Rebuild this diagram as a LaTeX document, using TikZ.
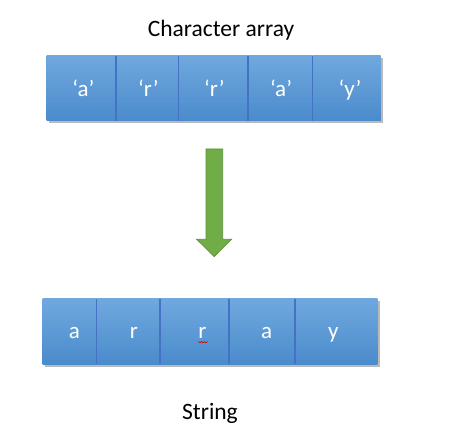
\documentclass[tikz,border=0pt]{standalone}
\usepackage{fontspec}
\setmainfont{Carlito}
\usetikzlibrary{shadows,shapes.misc}
\definecolor{celltop}{HTML}{70A8DE}
\definecolor{cellbot}{HTML}{4A8BCC}
\definecolor{divider}{HTML}{4472C4}
\definecolor{arrowfill}{HTML}{70AD47}
\definecolor{arrowline}{HTML}{5A8C38}
\tikzset{
  cellbox/.style={inner sep=0pt, outer sep=0pt, top color=celltop, bottom color=cellbot, draw=none},
  backbox/.style={inner sep=0pt, outer sep=0pt, fill=cellbot,
     drop shadow={shadow xshift=2.5pt, shadow yshift=-2.5pt, opacity=0.45, fill=black!60}},
  divline/.style={draw=divider, line width=1.4pt},
  celltext/.style={text=white, font=\fontsize{23}{27}\selectfont, anchor=base, inner sep=0pt},
  captext/.style={text=black, font=\fontsize{23.5}{28}\selectfont, anchor=base, inner sep=0pt},
  bigarrow/.style={fill=arrowfill, draw=arrowline, line width=0.6pt, line join=miter}
}
\begin{document}
\begin{tikzpicture}[x=1pt,y=-1pt]
\useasboundingbox (0,0) rectangle (453,446);
% caption top
\node[captext] (captop) at (221,36.7) {Character array};
% top array background with shadow
\path[backbox] (46.7,55.7) rectangle (380.7,121);
\node[cellbox, minimum width=69.3pt, minimum height=65.3pt] (t1) at (81.35,88.35) {};
\node[cellbox, minimum width=62.7pt, minimum height=65.3pt] (t2) at (147.35,88.35) {};
\node[cellbox, minimum width=69.3pt, minimum height=65.3pt] (t3) at (213.35,88.35) {};
\node[cellbox, minimum width=64.7pt, minimum height=65.3pt] (t4) at (280.35,88.35) {};
\node[cellbox, minimum width=68pt, minimum height=65.3pt] (t5) at (346.7,88.35) {};
\draw[divline] (t1.north east) -- (t1.south east);
\draw[divline] (t2.north east) -- (t2.south east);
\draw[divline] (t3.north east) -- (t3.south east);
\draw[divline] (t4.north east) -- (t4.south east);
\node[celltext] (lt1) at (83.3,96.7) {‘a’};
\node[celltext] (lt2) at (148.3,96.7) {‘r’};
\node[celltext] (lt3) at (214.3,96.7) {‘r’};
\node[celltext] (lt4) at (281,96.7) {‘a’};
\node[celltext] (lt5) at (350,96.7) {‘y’};
% green arrow
\draw[bigarrow] (206,149) -- (222.7,149) -- (222.7,239.3) -- (231.7,239.3)
   -- (214.2,256.7) -- (196.7,239.3) -- (206,239.3) -- cycle;
% bottom array
\path[backbox] (42.7,299) rectangle (377.3,364.3);
\node[cellbox, minimum width=54pt, minimum height=65.3pt] (b1) at (69.7,331.65) {};
\node[cellbox, minimum width=63.3pt, minimum height=65.3pt] (b2) at (128.35,331.65) {};
\node[cellbox, minimum width=69pt, minimum height=65.3pt] (b3) at (194.5,331.65) {};
\node[cellbox, minimum width=66pt, minimum height=65.3pt] (b4) at (262,331.65) {};
\node[cellbox, minimum width=82.3pt, minimum height=65.3pt] (b5) at (336.15,331.65) {};
\draw[divline] (b1.north east) -- (b1.south east);
\draw[divline] (b2.north east) -- (b2.south east);
\draw[divline] (b3.north east) -- (b3.south east);
\draw[divline] (b4.north east) -- (b4.south east);
\node[celltext] (lb1) at (74.3,338.7) {a};
\node[celltext] (lb2) at (134,338.7) {r};
\node[celltext] (lb3) at (202.5,338.7) {r};
\node[celltext] (lb4) at (266.7,338.7) {a};
\node[celltext] (lb5) at (333.3,338.7) {y};
% spell-check squiggle
\coordinate (sq) at (198.5,341.5);
\draw[red!85!black, line width=0.6pt] (sq) -- ++(1.5,1.3) -- ++(1.5,-1.3) -- ++(1.5,1.3) -- ++(1.5,-1.3) -- ++(1.5,1.3) -- ++(1.5,-1.3);
% caption bottom
\node[captext] (capbot) at (210,419.3) {String};
\end{tikzpicture}
\end{document}
